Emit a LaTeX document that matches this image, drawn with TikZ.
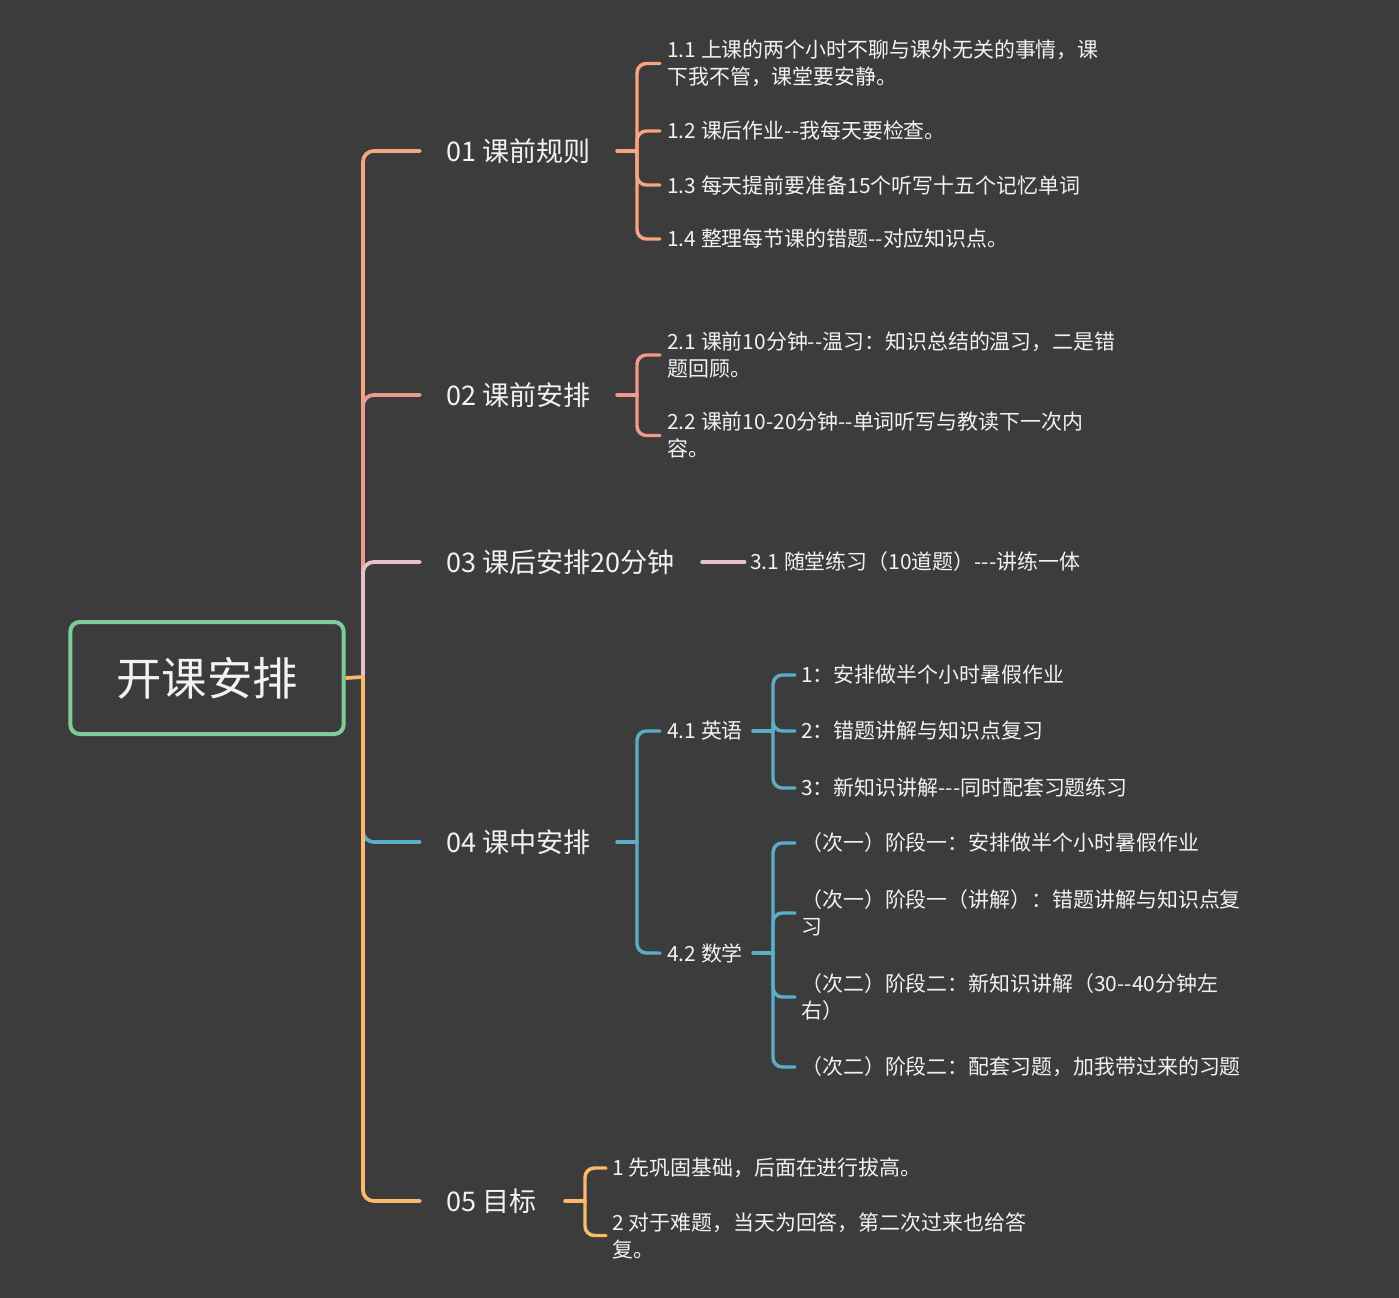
\documentclass[tikz,border=0pt]{standalone}
\usepackage{fontspec}
\setmainfont{Noto Sans CJK SC}[Ligatures=TeXOff]
\definecolor{bg}{HTML}{3C3C3C}
\definecolor{txt}{HTML}{F2F2F2}
\definecolor{cgreen}{HTML}{80CC99}
\definecolor{cA}{HTML}{F7A47F}
\definecolor{cB}{HTML}{F0998F}
\definecolor{cC}{HTML}{E4C3CB}
\definecolor{cD}{HTML}{5BAEC6}
\definecolor{cE}{HTML}{FDB96B}
\begin{document}
\begin{tikzpicture}[x=0.75pt,y=-0.75pt,
  leaf/.style={anchor=west, inner sep=0pt, align=left, text=txt, font=\fontsize{15.7}{20.25}\selectfont},
  topic/.style={anchor=west, inner sep=0pt, text=txt, font=\fontsize{20.3}{24}\selectfont},
  con/.style={line width=2.8pt, line cap=round, rounded corners=8pt},
  brk/.style={line width=2.6pt, line cap=round, rounded corners=7pt},
  cl1/.style={con, draw=cA}, cl2/.style={con, draw=cB}, cl3/.style={con, draw=cC},
  cl4/.style={con, draw=cD}, cl5/.style={con, draw=cE},
  bk1/.style={brk, draw=cA}, bk2/.style={brk, draw=cB}, bk3/.style={brk, draw=cC},
  bk4/.style={brk, draw=cD}, bk5/.style={brk, draw=cE}]
\fill[bg] (0,0) rectangle (1399,1298);
\useasboundingbox (0,0) rectangle (1399,1298);

% root
\node[draw=cgreen, line width=3pt, rounded corners=7pt, minimum width=205pt, minimum height=84pt,
      text=txt, font=\fontsize{34}{40}\selectfont, inner sep=0pt] (root) at (207,678) {开课安排};
\coordinate (J) at (363,677);

% topics
\node[topic] (t1) at (446,151) {01 课前规则};
\node[topic] (t2) at (446,395) {02 课前安排};
\node[topic] (t3) at (446,562) {03 课后安排20分钟};
\node[topic] (t4) at (446,842) {04 课中安排};
\node[topic] (t5) at (446,1201) {05 目标};

% trunk
\draw[cl1] (J) |- ([xshift=-19.5pt]t1.west);
\draw[cl2] (J) |- ([xshift=-19.5pt]t2.west);
\draw[cl3] (J) |- ([xshift=-19.5pt]t3.west);
\draw[cl4] (J) |- ([xshift=-19.5pt]t4.west);
\draw[cl5] (J) |- ([xshift=-19.5pt]t5.west);
\draw[line width=2.8pt, draw=cE] (root.east) -- (J);

% ---- 01
\coordinate (k1) at (617,151);
\coordinate (j1) at (637,151);
\node[leaf] (l11) at (667,63.5) {1.1 上课的两个小时不聊与课外无关的事情，课\\下我不管，课堂要安静。};
\node[leaf] (l12) at (667,131) {1.2 课后作业--我每天要检查。};
\node[leaf] (l13) at (667,185) {1.3 每天提前要准备15个听写十五个记忆单词};
\node[leaf] (l14) at (667,239) {1.4 整理每节课的错题--对应知识点。};
\draw[bk1] (k1) -- (j1);
\foreach \n in {l11,l12,l13,l14} \draw[bk1] (j1) |- ([xshift=-5.25pt]\n.west);

% ---- 02
\coordinate (k2) at (617,395);
\coordinate (j2) at (637,395);
\node[leaf] (l21) at (667,355) {2.1 课前10分钟--温习：知识总结的温习，二是错\\题回顾。};
\node[leaf] (l22) at (667,435.5) {2.2 课前10-20分钟--单词听写与教读下一次内\\容。};
\draw[bk2] (k2) -- (j2);
\foreach \n in {l21,l22} \draw[bk2] (j2) |- ([xshift=-5.25pt]\n.west);

% ---- 03
\coordinate (k3) at (702,562);
\node[leaf] (l31) at (750,562) {3.1 随堂练习（10道题）---讲练一体};
\draw[bk3] (k3) -- ([xshift=-4pt]l31.west);

% ---- 04
\coordinate (k4) at (617,842);
\coordinate (j4) at (637,842);
\node[leaf] (s41) at (667,731) {4.1 英语};
\node[leaf] (s42) at (667,953) {4.2 数学};
\draw[bk4] (k4) -- (j4);
\foreach \n in {s41,s42} \draw[bk4] (j4) |- ([xshift=-5.25pt]\n.west);

\coordinate (k41) at (753,731);
\coordinate (j41) at (773,731);
\node[leaf] (l411) at (801,675) {1：安排做半个小时暑假作业};
\node[leaf] (l412) at (801,731) {2：错题讲解与知识点复习};
\node[leaf] (l413) at (801,788) {3：新知识讲解---同时配套习题练习};
\draw[bk4] (k41) -- (j41);
\foreach \n in {l411,l412,l413} \draw[bk4] (j41) |- ([xshift=-4.5pt]\n.west);

\coordinate (k42) at (753,953);
\coordinate (j42) at (773,953);
\node[leaf] (l421) at (801,843) {（次一）阶段一：安排做半个小时暑假作业};
\node[leaf] (l422) at (801,913) {（次一）阶段一（讲解）：错题讲解与知识点复\\习};
\node[leaf] (l423) at (801,997) {（次二）阶段二：新知识讲解（30--40分钟左\\右）};
\node[leaf] (l424) at (801,1067) {（次二）阶段二：配套习题，加我带过来的习题};
\draw[bk4] (k42) -- (j42);
\foreach \n in {l421,l422,l423,l424} \draw[bk4] (j42) |- ([xshift=-4.5pt]\n.west);

% ---- 05
\coordinate (k5) at (565,1201);
\coordinate (j5) at (585,1201);
\node[leaf] (l51) at (612,1168) {1 先巩固基础，后面在进行拔高。};
\node[leaf] (l52) at (612,1235.5) {2 对于难题，当天为回答，第二次过来也给答\\复。};
\draw[bk5] (k5) -- (j5);
\foreach \n in {l51,l52} \draw[bk5] (j5) |- ([xshift=-4.5pt]\n.west);
\end{tikzpicture}
\end{document}
